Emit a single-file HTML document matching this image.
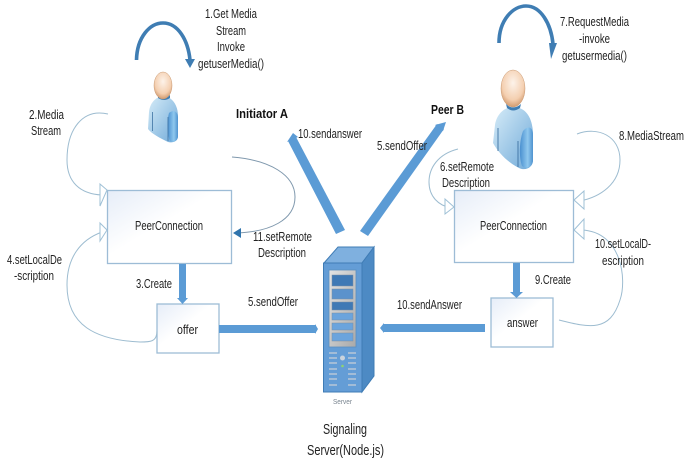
<!DOCTYPE html>
<html><head><meta charset="utf-8"><style>
html,body{margin:0;padding:0;background:#fff;width:685px;height:460px;overflow:hidden}
svg{display:block;filter:blur(0.35px)}
text{font-family:"Liberation Sans",sans-serif;font-size:13px;fill:#222}
.b{font-weight:bold;fill:#111}
.t{fill:none;stroke:#9dbcd0;stroke-width:1}
.o{fill:#fff;stroke:#9fc0d6;stroke-width:1}
.box{stroke:#9dbcd6;stroke-width:1.3;fill:url(#bx)}
</style></head><body>
<svg width="685" height="460" viewBox="0 0 685 460" xmlns="http://www.w3.org/2000/svg">
<defs>
<linearGradient id="bx" x1="0" y1="0" x2="1" y2="1"><stop offset="0" stop-color="#e6edf8"/><stop offset=".45" stop-color="#fff"/></linearGradient>
<radialGradient id="hd" cx=".5" cy=".35" r=".7"><stop offset="0" stop-color="#fdf3ea"/><stop offset=".65" stop-color="#f4cfb0"/><stop offset="1" stop-color="#c98d5e"/></radialGradient>
<linearGradient id="bd" x1="0" y1="0" x2="1" y2="1"><stop offset="0" stop-color="#d6ecf8"/><stop offset="1" stop-color="#6fa9d8"/></linearGradient>
<linearGradient id="sl" x1="0" y1="0" x2="1" y2="0"><stop offset="0" stop-color="#4a90d0"/><stop offset=".6" stop-color="#8fc8ee"/><stop offset="1" stop-color="#4f93cf"/></linearGradient>
<linearGradient id="pn" x1="0" y1="0" x2="1" y2="1"><stop offset="0" stop-color="#e4e4e4"/><stop offset="1" stop-color="#a9a9a9"/></linearGradient>
</defs>

<!-- curved arrows on top -->
<path d="M136.500 60 C137 37 150 23 163 23 C178 23 188 40 190 60" fill="none" stroke="#3f7db3" stroke-width="3.600"/>
<polygon points="185,59 195,59 190,68" fill="#3f7db3"/>
<path d="M499 43 C499 20 513 6 526 6 C541 6 551 24 553 44" fill="none" stroke="#3f7db3" stroke-width="3.600"/>
<polygon points="549,43 557,43 551,59" fill="#3f7db3"/>

<!-- boxes -->
<rect class="box" x="107.500" y="190.500" width="124" height="73"/>
<rect class="box" x="454.500" y="190.500" width="119" height="72"/>
<rect class="box" x="157" y="304" width="62" height="49"/>
<rect class="box" x="491" y="298" width="62" height="49"/>

<!-- thin connectors -->
<path class="t" d="M108 114 C82 108 67 130 67 160 C67 182 80 194 102 195"/>
<polygon class="o" points="100,184 107,190 100,206"/>
<path class="t" d="M157 331 C157 342 150 342 140 342 C95 340 67 325 67 285 C67 258 80 240 102 232"/>
<polygon class="o" points="100,223 107,230 100,241"/>
<path d="M232 157 C270 160 295 175 295 197 C295 220 270 232 236 233" fill="none" stroke="#7f98ad" stroke-width="1"/>
<polygon points="233,233 241,228 241,238" fill="#2f74ad"/>
<path class="t" d="M458 149 C438 154 429 168 429 182 C429 196 438 206 452 208"/>
<polygon class="o" points="445,199 454,207 445,214"/>
<path class="t" d="M577 134 C598 126 620 136 620 160 C620 184 600 197 580 201"/>
<polygon class="o" points="574,200 584,191 584,209"/>
<path class="t" d="M559 320 C590 328 610 332 620 300 C627 280 622 232 582 230"/>
<polygon class="o" points="574,230 584,219 584,239"/>

<!-- thick arrows -->
<g fill="#5b9bd5">
<rect x="179" y="264" width="7" height="35"/><polygon points="177,298 188,298 182.500,304"/>
<rect x="513" y="263" width="7" height="30"/><polygon points="510,292 523,292 516.500,298"/>
<rect x="219" y="325" width="97" height="8"/><polygon points="315,324 318,329 315,334"/>
<rect x="383" y="324" width="102" height="8"/><polygon points="384,323 380,328 384,333"/>
<polygon points="336,234 345,230 296,137 288,141"/><polygon points="293,133 287,142 298,137"/>
<polygon points="360,231 368,236 444,129 437,124"/><polygon points="446,122 435,125 443,131"/>
</g>

<!-- server -->
<polygon points="324,263 338,247 374,247 362,263" fill="#7fb0df" stroke="#3f7cb5"/>
<polygon points="362,263 374,247 374,376 362,392" fill="#4d8ac4" stroke="#3f7cb5"/>
<rect x="323.500" y="263" width="38.500" height="129" fill="#649dd6" stroke="#3f7cb5"/>
<rect x="329" y="270" width="27" height="77" fill="url(#pn)" stroke="#5c8fc0" stroke-width=".8"/>
<g stroke="#7b8fa5" stroke-width=".5">
<rect x="332" y="275" width="21" height="11" fill="#3f79b5"/>
<rect x="332" y="289" width="21" height="10" fill="#5b92cc"/>
<rect x="332" y="302" width="21" height="8" fill="#3f79b5"/>
<rect x="332" y="313" width="21" height="7" fill="#6ba4dd"/>
<rect x="332" y="323" width="21" height="7" fill="#6ba4dd"/>
<rect x="332" y="333" width="21" height="8" fill="#6ba4dd"/>
</g>
<g stroke="#c7cfd8" stroke-width="1.300">
<path d="M329 353h8M329 358h8M329 363h8M329 369h8M329 374h8M329 379h8M329 385h8"/>
<path d="M348 353h8M348 358h8M348 363h8M348 369h8M348 374h8M348 379h8M348 385h8"/>
</g>
<circle cx="342.500" cy="358" r="2.500" fill="#c9d3dd"/>
<circle cx="342.500" cy="366" r="1.300" fill="#8fd470"/>

<!-- person A -->
<path d="M149 112 C150 101 158 96 164 96 C172 97 178 105 178 116 L178 136 C178 142 172 143 168 142 C160 138 152 134 148 129 Z" fill="url(#bd)"/>
<path d="M169 113 C174 109 178 112 178 118 L178 136 C178 141 173 143 170 141 C167 135 167 120 169 113 Z" fill="url(#sl)"/>
<path d="M152.500 112V131M168 117V141" stroke="#3f73a3" stroke-width=".8" fill="none"/>
<path d="M158 95 Q164 101 170 95 L170 98 Q164 102 158 98Z" fill="#3f7db3"/>
<ellipse cx="163" cy="85.500" rx="9" ry="13.500" fill="url(#hd)" stroke="#c99a74" stroke-width=".5"/>

<!-- person B -->
<path d="M495 125 C497 112 507 106 515 107 C526 108 533 118 533 135 L533 160 C533 168 525 171 519 168 C507 162 498 152 493 143 Z" fill="url(#bd)"/>
<path d="M523 131 C528 125 533 127 533 135 L533 160 C533 167 526 170 522 166 C519 158 519 142 523 131 Z" fill="url(#sl)"/>
<path d="M498 128V151M518 141V167" stroke="#3f73a3" stroke-width=".9" fill="none"/>
<path d="M506 104 Q513 111 521 104 L520 108 Q513 113 507 108Z" fill="#3f7db3"/>
<ellipse cx="513" cy="88.500" rx="12" ry="18.500" fill="url(#hd)" stroke="#c99a74" stroke-width=".5"/>

<!-- labels -->
<g>
<text x="205" y="18" textLength="52" lengthAdjust="spacingAndGlyphs">1.Get Media</text>
<text x="216" y="35" textLength="30" lengthAdjust="spacingAndGlyphs">Stream</text>
<text x="217" y="51" textLength="28" lengthAdjust="spacingAndGlyphs">Invoke</text>
<text x="198" y="68" textLength="66" lengthAdjust="spacingAndGlyphs">getuserMedia()</text>
<text x="29" y="119" textLength="35" lengthAdjust="spacingAndGlyphs">2.Media</text>
<text x="31" y="135" textLength="30" lengthAdjust="spacingAndGlyphs">Stream</text>
<text class="b" x="236" y="118" textLength="52" lengthAdjust="spacingAndGlyphs">Initiator A</text>
<text x="298" y="138" textLength="64" lengthAdjust="spacingAndGlyphs">10.sendanswer</text>
<text x="377" y="150" textLength="50" lengthAdjust="spacingAndGlyphs">5.sendOffer</text>
<text class="b" x="431" y="114" textLength="33" lengthAdjust="spacingAndGlyphs">Peer B</text>
<text x="560" y="26" textLength="69" lengthAdjust="spacingAndGlyphs">7.RequestMedia</text>
<text x="579" y="43" textLength="31" lengthAdjust="spacingAndGlyphs">-invoke</text>
<text x="562" y="60" textLength="65" lengthAdjust="spacingAndGlyphs">getusermedia()</text>
<text x="619" y="140" textLength="65" lengthAdjust="spacingAndGlyphs">8.MediaStream</text>
<text x="440" y="171" textLength="54" lengthAdjust="spacingAndGlyphs">6.setRemote</text>
<text x="442" y="187" textLength="48" lengthAdjust="spacingAndGlyphs">Description</text>
<text x="135" y="230" textLength="68" lengthAdjust="spacingAndGlyphs">PeerConnection</text>
<text x="480" y="230" textLength="67" lengthAdjust="spacingAndGlyphs">PeerConnection</text>
<text x="253" y="241" textLength="59" lengthAdjust="spacingAndGlyphs">11.setRemote</text>
<text x="258" y="257" textLength="48" lengthAdjust="spacingAndGlyphs">Description</text>
<text x="7" y="264" textLength="55" lengthAdjust="spacingAndGlyphs">4.setLocalDe</text>
<text x="14" y="280" textLength="40" lengthAdjust="spacingAndGlyphs">-scription</text>
<text x="136" y="288" textLength="36" lengthAdjust="spacingAndGlyphs">3.Create</text>
<text x="248" y="306" textLength="50" lengthAdjust="spacingAndGlyphs">5.sendOffer</text>
<text x="177" y="334" textLength="21" lengthAdjust="spacingAndGlyphs">offer</text>
<text x="397" y="309" textLength="65" lengthAdjust="spacingAndGlyphs">10.sendAnswer</text>
<text x="535" y="284" textLength="36" lengthAdjust="spacingAndGlyphs">9.Create</text>
<text x="507" y="327" textLength="31" lengthAdjust="spacingAndGlyphs">answer</text>
<text x="595" y="248" textLength="56" lengthAdjust="spacingAndGlyphs">10.setLocalD-</text>
<text x="602" y="265" textLength="42" lengthAdjust="spacingAndGlyphs">escription</text>
<text x="333" y="404" textLength="19" lengthAdjust="spacingAndGlyphs" style="font-size:7px;fill:#7a8590">Server</text>
<text x="323" y="434" textLength="44" lengthAdjust="spacingAndGlyphs" style="font-size:15px">Signaling</text>
<text x="307" y="455" textLength="77" lengthAdjust="spacingAndGlyphs" style="font-size:15px">Server(Node.js)</text>
</g>
</svg>
</body></html>
